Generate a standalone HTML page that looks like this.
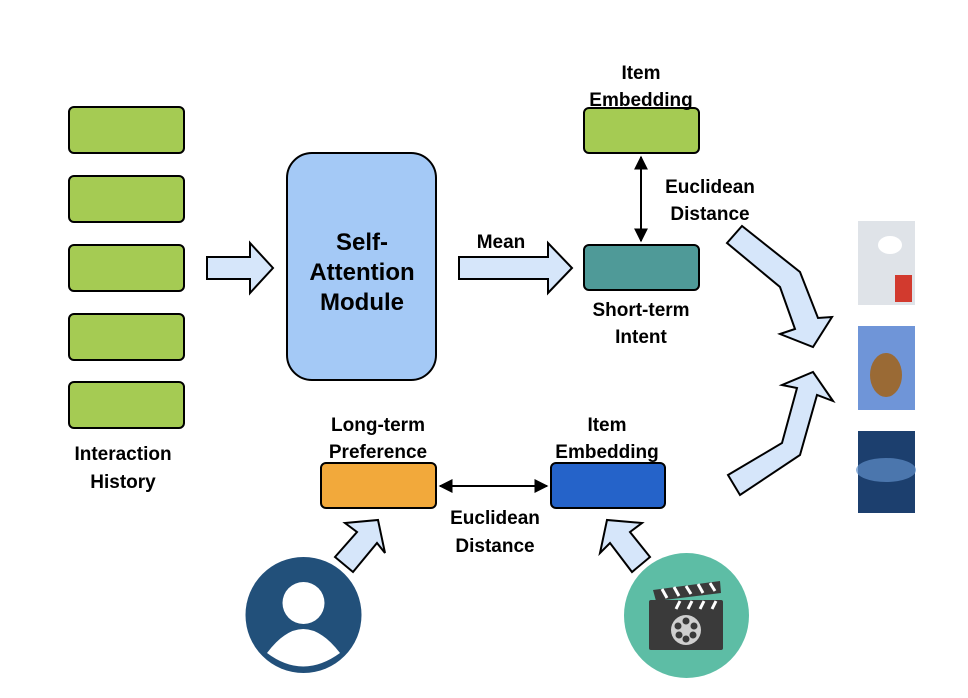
<!DOCTYPE html>
<html><head><meta charset="utf-8"><style>
html,body{margin:0;padding:0;background:#fff}
svg{display:block}
text{font-family:"Liberation Sans",Arial,sans-serif;font-weight:bold;fill:#000;text-anchor:middle}
</style></head><body>
<svg width="968" height="698" viewBox="0 0 968 698" xmlns="http://www.w3.org/2000/svg">
<defs>
<marker id="ah" viewBox="0 0 10 10" refX="9" refY="5" markerWidth="7" markerHeight="7" orient="auto-start-reverse"><path d="M0,0 L10,5 L0,10 z" fill="#000"/></marker>
</defs>
<g fill="#a5cb53" stroke="#000" stroke-width="2">
<rect x="69" y="107" width="115" height="46" rx="5"/>
<rect x="69" y="176" width="115" height="46" rx="5"/>
<rect x="69" y="245" width="115" height="46" rx="5"/>
<rect x="69" y="314" width="115" height="46" rx="5"/>
<rect x="69" y="382" width="115" height="46" rx="5"/>
<rect x="584" y="108" width="115" height="45" rx="5"/>
</g>
<text x="123" y="460" font-size="19">Interaction</text>
<text x="123" y="488" font-size="19">History</text>
<g fill="#d6e6fa" stroke="#000" stroke-width="2" stroke-linejoin="miter">
<polygon points="207,257 250,257 250,243 273,268 250,293 250,279 207,279"/>
<polygon points="459,257 548,257 548,243 572,268 548,293 548,279 459,279"/>
<polygon points="727,243 742,226 800,272 818,318 832,317 813,347 780,334 795,329 780,287"/>
<polygon points="728,475 740,495 800,455 817,395 833,401 813,372 782,385 797,388 782,443"/>
<polygon points="335,557 353,572 377,543 385,553 378,520 345,523 357,532"/>
<polygon points="650,557 632,572 610,543 600,553 607,520 642,523 630,532"/>
</g>
<rect x="287" y="153" width="149" height="227" rx="25" fill="#a4c9f6" stroke="#000" stroke-width="2"/>
<text x="362" y="250" font-size="24">Self-</text>
<text x="362" y="280" font-size="24">Attention</text>
<text x="362" y="310" font-size="24">Module</text>
<text x="501" y="248" font-size="19">Mean</text>
<rect x="584" y="245" width="115" height="45" rx="5" fill="#4f9a98" stroke="#000" stroke-width="2"/>
<text x="641" y="316" font-size="19">Short-term</text>
<text x="641" y="343" font-size="19">Intent</text>
<text x="641" y="79" font-size="19">Item</text>
<text x="641" y="106" font-size="19">Embedding</text>
<line x1="641" y1="157" x2="641" y2="241" stroke="#000" stroke-width="2" marker-start="url(#ah)" marker-end="url(#ah)"/>
<text x="710" y="193" font-size="19">Euclidean</text>
<text x="710" y="220" font-size="19">Distance</text>
<rect x="321" y="463" width="115" height="45" rx="5" fill="#f2a93b" stroke="#000" stroke-width="2"/>
<rect x="551" y="463" width="114" height="45" rx="5" fill="#2563c9" stroke="#000" stroke-width="2"/>
<text x="378" y="431" font-size="19">Long-term</text>
<text x="378" y="458" font-size="19">Preference</text>
<text x="607" y="431" font-size="19">Item</text>
<text x="607" y="458" font-size="19">Embedding</text>
<line x1="440" y1="486" x2="547" y2="486" stroke="#000" stroke-width="2" marker-start="url(#ah)" marker-end="url(#ah)"/>
<text x="495" y="524" font-size="19">Euclidean</text>
<text x="495" y="552" font-size="19">Distance</text>
<rect x="858" y="221" width="57" height="84" fill="#dfe3e8"/>
<ellipse cx="890" cy="245" rx="12" ry="9" fill="#fff"/>
<rect x="895" y="275" width="17" height="27" fill="#d23a2e"/>
<rect x="858" y="326" width="57" height="84" fill="#6f95d8"/>
<ellipse cx="886" cy="375" rx="16" ry="22" fill="#9a6a35"/>
<rect x="858" y="431" width="57" height="82" fill="#1c3f6e"/>
<ellipse cx="886" cy="470" rx="30" ry="12" fill="#5f8fc8" opacity="0.7"/>
<circle cx="303.5" cy="615" r="58" fill="#22507a"/>
<circle cx="303.5" cy="603" r="21" fill="#fff"/>
<path d="M267,653 Q303,605 340,653 Q303,680 267,653 z" fill="#fff"/>
<circle cx="686.5" cy="615.5" r="62.5" fill="#5dbda5"/>
<rect x="649" y="600" width="74" height="50" rx="2" fill="#3a3a3a"/>
<polygon points="653,590 720,581 721,593 656,601" fill="#3a3a3a"/>
<g stroke="#fff" stroke-width="3">
<line x1="662" y1="589" x2="667" y2="598"/><line x1="674" y1="587" x2="679" y2="596"/>
<line x1="686" y1="586" x2="691" y2="594"/><line x1="698" y1="584" x2="703" y2="593"/>
<line x1="710" y1="583" x2="715" y2="591"/>
<line x1="680" y1="601" x2="676" y2="609"/><line x1="692" y1="601" x2="688" y2="609"/>
<line x1="704" y1="601" x2="700" y2="609"/><line x1="716" y1="601" x2="712" y2="609"/>
</g>
<circle cx="686" cy="630" r="15" fill="#cfcfcf"/>
<g fill="#3a3a3a"><circle cx="686" cy="621" r="3.5"/><circle cx="686" cy="639" r="3.5"/><circle cx="678" cy="626" r="3.5"/><circle cx="694" cy="626" r="3.5"/><circle cx="679" cy="635" r="3.5"/><circle cx="693" cy="635" r="3.5"/></g>
</svg>
</body></html>
